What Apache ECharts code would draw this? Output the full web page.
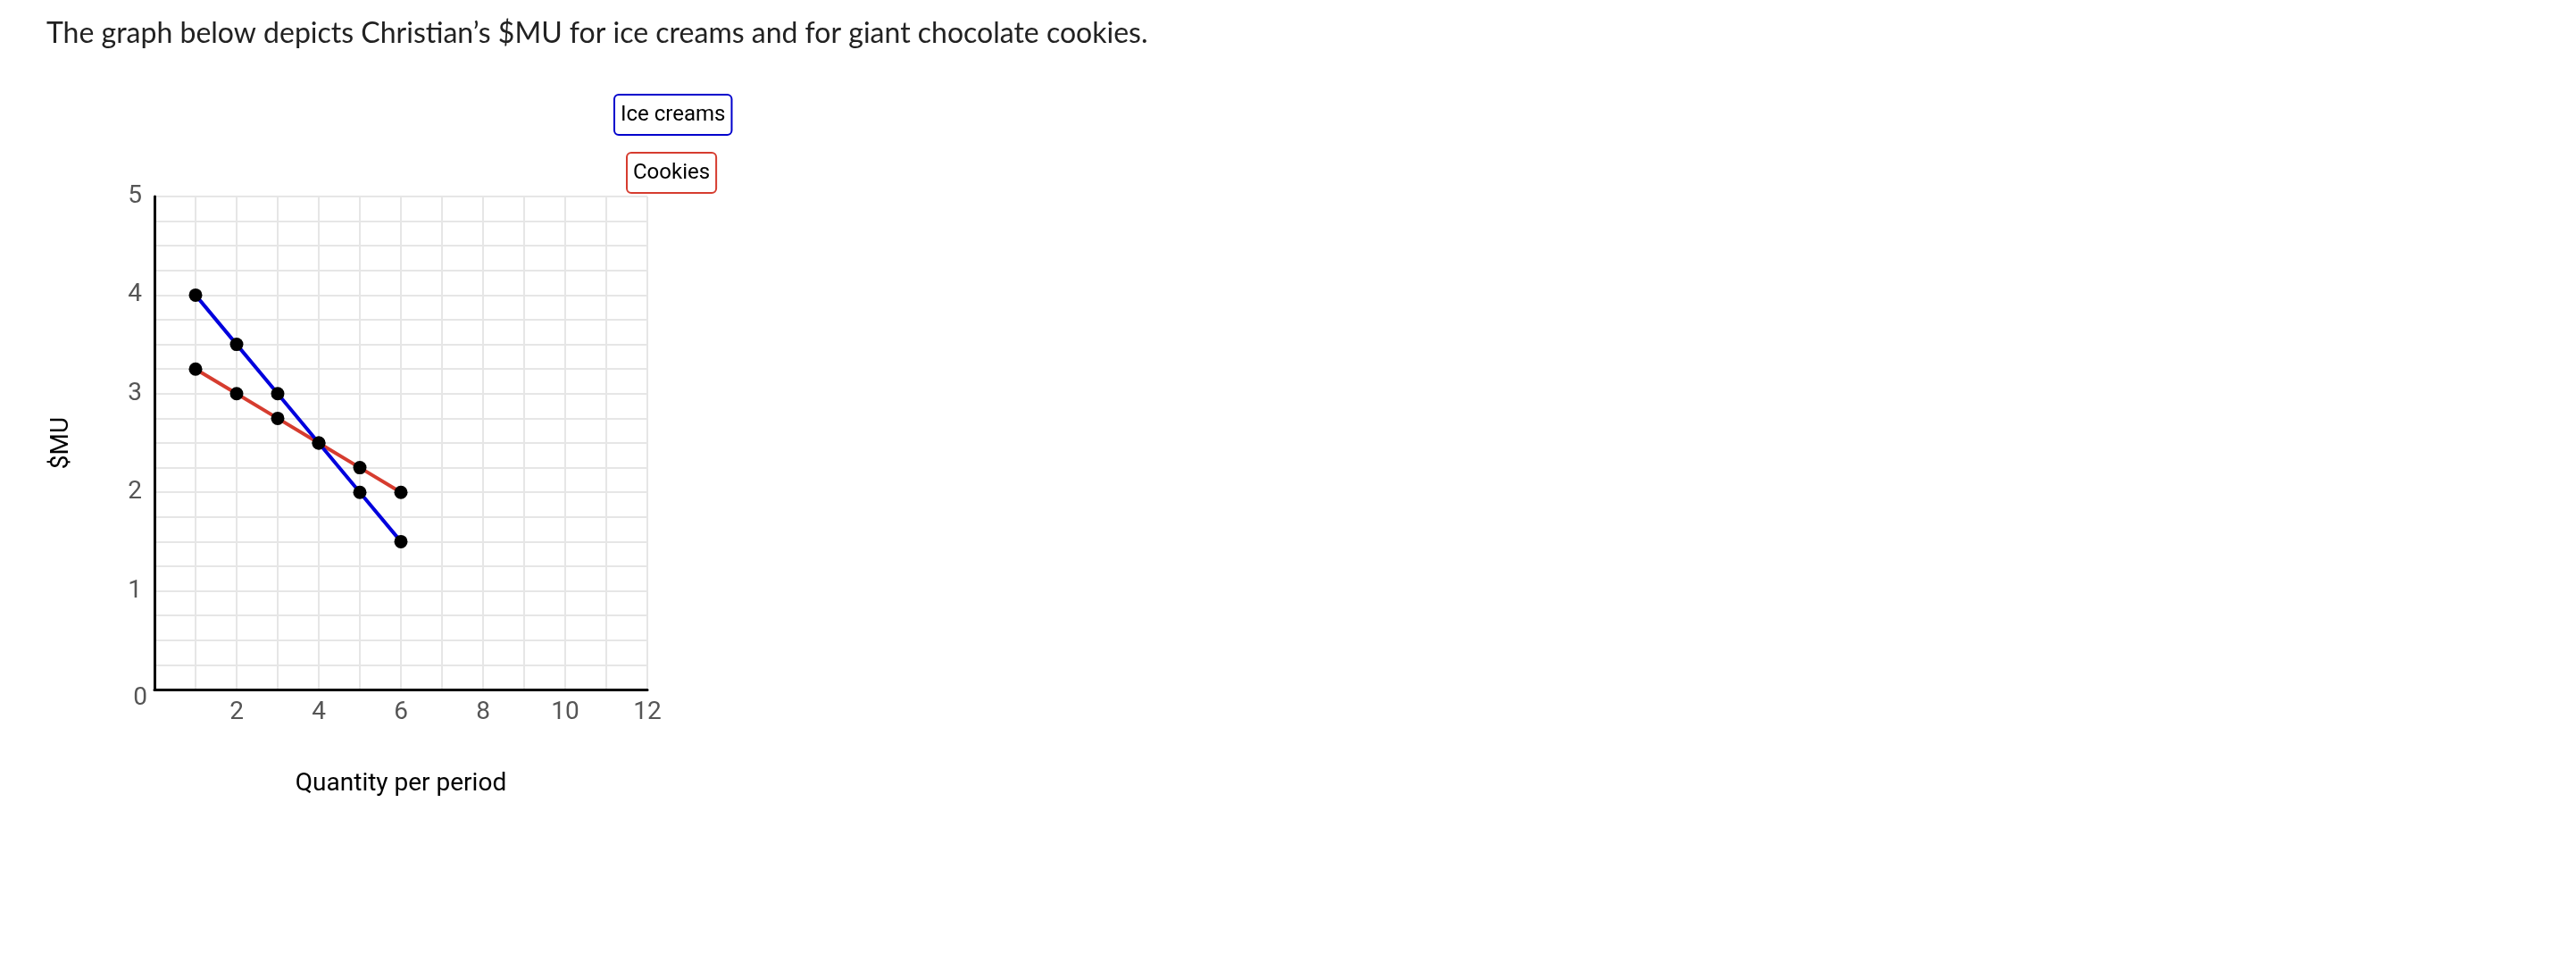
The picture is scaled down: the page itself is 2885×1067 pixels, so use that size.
<!DOCTYPE html>
<html>
<head>
<meta charset="utf-8">
<script src="https://cdn.jsdelivr.net/npm/echarts@6/dist/echarts.min.js"></script>
<style>
html,body{margin:0;padding:0;background:#fff;}
#chart{width:2885px;height:1067px;}
</style>
</head>
<body>
<div id="chart"></div>
<script>
const titleText = "The graph below depicts Christian\u2019s $MU for ice creams and for giant chocolate cookies.";
const quantities = [1, 2, 3, 4, 5, 6];
const iceCreams = [4, 3.5, 3, 2.5, 2, 1.5];
const cookies = [3.25, 3, 2.75, 2.5, 2.25, 2];
const seriesNames = ["Ice creams", "Cookies"];
const xTickLabels = [2, 4, 6, 8, 10, 12];
const yTickLabels = [0, 1, 2, 3, 4, 5];

const chart = echarts.init(document.getElementById('chart'));
const pair = (ys) => quantities.map((q, i) => [q, ys[i]]);

chart.setOption({
  animation: false,
  backgroundColor: '#fff',
  title: {
    text: titleText,
    left: 47, top: 17,
    textStyle: { fontFamily: 'Lato', fontSize: 32, fontWeight: 'normal', color: '#222' }
  },
  grid: { left: 173, top: 220, width: 552, height: 552 },
  xAxis: {
    type: 'value', min: 0, max: 12, interval: 1,
    name: 'Quantity per period', nameLocation: 'middle', nameGap: 92,
    nameTextStyle: { fontFamily: 'Roboto', fontSize: 28, color: '#000' },
    axisLine: { show: true, lineStyle: { color: '#000', width: 3 } },
    axisTick: { show: false },
    splitLine: { show: true, lineStyle: { color: '#e6e6e6', width: 2 } },
    axisLabel: {
      fontFamily: 'Roboto', fontSize: 28, color: '#555', margin: 12,
      formatter: v => xTickLabels.includes(v) ? String(v) : ''
    }
  },
  yAxis: {
    type: 'value', min: 0, max: 5, interval: 0.25,
    name: '$MU', nameLocation: 'middle', nameGap: 90,
    nameTextStyle: { fontFamily: 'Roboto', fontSize: 28, color: '#000' },
    axisLine: { show: true, lineStyle: { color: '#000', width: 3 } },
    axisTick: { show: false },
    splitLine: { show: true, lineStyle: { color: '#e6e6e6', width: 2 } },
    axisLabel: {
      fontFamily: 'Roboto', fontSize: 28, color: '#555', margin: 14,
      formatter: v => (v === 0 ? '{z|0}' : (yTickLabels.includes(v) ? String(v) : '')),
      rich: { z: { fontFamily: 'Roboto', fontSize: 28, color: '#555', padding: [20, -6, 0, 0] } }
    }
  },
  series: [
    {
      name: seriesNames[0], type: 'line', data: pair(iceCreams),
      lineStyle: { color: '#0000dd', width: 4 },
      itemStyle: { color: '#000' },
      symbol: 'circle', symbolSize: 15, z: 3
    },
    {
      name: seriesNames[1], type: 'line', data: pair(cookies),
      lineStyle: { color: '#d63c2f', width: 4 },
      itemStyle: { color: '#000' },
      symbol: 'circle', symbolSize: 15, z: 2
    }
  ],
  graphic: [
    {
      type: 'text', left: 687, top: 105,
      style: {
        text: seriesNames[0], fill: '#000', font: '24px Roboto',
        backgroundColor: '#fff', borderColor: '#0000cc', borderWidth: 2, borderRadius: 4,
        padding: [10, 6, 9, 6]
      }
    },
    {
      type: 'text', left: 701, top: 170,
      style: {
        text: seriesNames[1], fill: '#000', font: '24px Roboto',
        backgroundColor: '#fff', borderColor: '#d63c2f', borderWidth: 2, borderRadius: 4,
        padding: [10, 6, 9, 6]
      }
    }
  ]
});
</script>
</body>
</html>
